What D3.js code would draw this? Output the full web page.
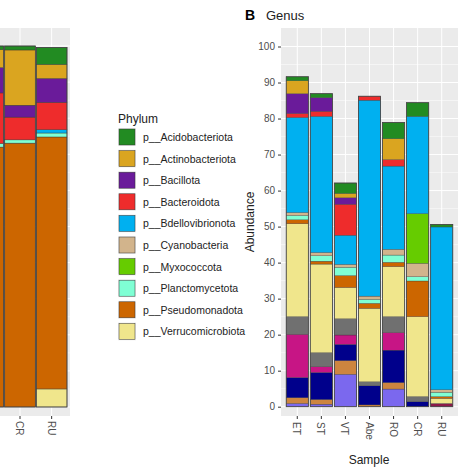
<!DOCTYPE html><html><head><meta charset="utf-8">
<script src="https://cdn.jsdelivr.net/npm/d3@7"></script>
<style>body{margin:0;background:#fff}text{font-family:"Liberation Sans",Arial,sans-serif}</style></head><body>
<svg id="c" width="474" height="474"></svg>
<script>
// Panel A (phylum), partially visible
const phyla=["p__Acidobacteriota","p__Actinobacteriota","p__Bacillota","p__Bacteroidota","p__Bdellovibrionota","p__Cyanobacteria","p__Myxococcota","p__Planctomycetota","p__Pseudomonadota","p__Verrucomicrobiota"];
const phylaColors=["#228B22","#DAA520","#6A1B9A","#EE2C2C","#00B0F0","#D2B48C","#66CC00","#7FFFD4","#CC6600","#F0E68C"];
const samplesA=["VT","CR","RU"];
// values stacked bottom->top in order: Verruco, Pseudo, Plancto, Myxo, Cyano, Bdello, Bacteroid, Bacillota, Actino, Acido
const phylumValues={
 VT:[0,72,1,0,0,0,14,7,5,1],
 CR:[0,73.1,0.9,0,0,0,6.3,3.3,15.3,1.1],
 RU:[5,69.8,1.1,0,0,0.9,7.6,6.6,3.9,4.7]
};
// Panel B (genus)
const samples=["ET","ST","VT","Abe","RO","CR","RU"];
const genusColors=["#8B1A4A","#7B68EE","#CD853F","#00008B","#C71585","#707070","#F0E68C","#CC6600","#7FFFD4","#D2B48C","#66CC00","#00B0F0","#EE2C2C","#6A1B9A","#DAA520","#228B22"];
const genusValues={
 ET:[0,0.9,1.6,5.6,12,4.9,25.8,1.1,1.2,0.8,0,26.4,1.1,5.5,3.6,1.1],
 ST:[0,0.7,1.3,7.5,1.6,3.9,24.6,0.8,1.5,0.9,0,37.8,1.4,3.8,0,1.1],
 VT:[0,9,3.8,4.5,2.6,4.5,8.7,3.3,2.3,0.8,0,8.1,8.6,1.8,1.2,2.9],
 Abe:[0,0,0.5,5.3,0,1.1,20.4,1.4,1.1,0.9,0,54.4,1.1,0,0,0],
 RO:[0,4.9,1.8,9,4.9,4.4,13.9,1.2,2,1.6,0,23.1,1.8,0,5.8,4.5],
 CR:[0,0,0,1.4,0,1.4,22.2,9.9,1.2,3.7,13.8,27,0,0,0,3.8],
 RU:[0.9,0,0,0,0,0,1.4,0.5,1.2,0.7,0,45.2,0,0,0,0.7]
};
const yTicks=[0,10,20,30,40,50,60,70,80,90,100];

const svg=d3.select("#c");
const bgc="#EBEBEB";
// ---- Panel A
const yA=d3.scaleLinear().domain([0,100]).range([407,46]);
const xA=d3.scaleBand().domain(samplesA).range([-27,67]).paddingInner(0.03);
svg.append("rect").attr("x",0).attr("y",28).attr("width",70).attr("height",388).attr("fill",bgc);
const gA=svg.append("g");
[5,15,25,35,45,55,65,75,85,95].forEach(v=>gA.append("line").attr("x1",0).attr("x2",70).attr("y1",yA(v)).attr("y2",yA(v)).attr("stroke","#fff").attr("stroke-width",0.5));
yTicks.forEach(v=>gA.append("line").attr("x1",0).attr("x2",70).attr("y1",yA(v)).attr("y2",yA(v)).attr("stroke","#fff").attr("stroke-width",1));
samplesA.slice(1).forEach(s=>gA.append("line").attr("x1",xA(s)+xA.bandwidth()/2).attr("x2",xA(s)+xA.bandwidth()/2).attr("y1",28).attr("y2",416).attr("stroke","#fff"));
const stackOrderA=[9,8,7,6,5,4,3,2,1,0];
samplesA.forEach(s=>{let c=0;phylumValues[s].forEach((v,i)=>{if(v<=0)return;const pi=stackOrderA[i];
 gA.append("rect").attr("x",xA(s)).attr("width",xA.bandwidth()).attr("y",yA(c+v)).attr("height",yA(c)-yA(c+v)).attr("fill",phylaColors[pi]).attr("stroke","#333").attr("stroke-width",0.4);c+=v;});
 gA.append("rect").attr("x",xA(s)).attr("width",xA.bandwidth()).attr("y",yA(c)).attr("height",yA(0)-yA(c)).attr("fill","none").attr("stroke","#444").attr("stroke-width",0.8);
 if(s!=="VT"){const cx=xA(s)+xA.bandwidth()/2;gA.append("line").attr("x1",cx).attr("x2",cx).attr("y1",416).attr("y2",419).attr("stroke","#333");
 gA.append("text").attr("transform",`translate(${cx-4},${421}) rotate(90)`).attr("font-size",10).attr("fill","#4d4d4d").text(s);}
});
// ---- Legend
const lg=svg.append("g");
lg.append("text").attr("x",118).attr("y",123).attr("font-size",12).attr("fill","#222").text("Phylum");
phyla.forEach((p,i)=>{const y=128+i*21.6;
 lg.append("rect").attr("x",118).attr("y",y).attr("width",18).attr("height",18).attr("fill","#f2f2f2");
 lg.append("rect").attr("x",119).attr("y",y+1).attr("width",16).attr("height",16).attr("fill",phylaColors[i]).attr("stroke","#333").attr("stroke-width",0.5);
 lg.append("text").attr("x",143).attr("y",y+13).attr("font-size",10.5).attr("fill","#222").text(p);});
// ---- Panel B
const L=281,R=458,T=28,B=416;
const y=d3.scaleLinear().domain([0,100]).range([406.7,46.5]);
const x=d3.scaleBand().domain(samples).range([L+4,R-4]).paddingInner(0.08).paddingOuter(0.05);
svg.append("rect").attr("x",L).attr("y",T).attr("width",R-L).attr("height",B-T).attr("fill",bgc);
const g=svg.append("g");
[5,15,25,35,45,55,65,75,85,95].forEach(v=>g.append("line").attr("x1",L).attr("x2",R).attr("y1",y(v)).attr("y2",y(v)).attr("stroke","#fff").attr("stroke-width",0.5));
yTicks.forEach(v=>g.append("line").attr("x1",L).attr("x2",R).attr("y1",y(v)).attr("y2",y(v)).attr("stroke","#fff").attr("stroke-width",1));
samples.forEach(s=>g.append("line").attr("x1",x(s)+x.bandwidth()/2).attr("x2",x(s)+x.bandwidth()/2).attr("y1",T).attr("y2",B).attr("stroke","#fff"));
samples.forEach(s=>{let c=0;genusValues[s].forEach((v,i)=>{if(v<=0)return;
 g.append("rect").attr("x",x(s)).attr("width",x.bandwidth()).attr("y",y(c+v)).attr("height",y(c)-y(c+v)).attr("fill",genusColors[i]).attr("stroke","#333").attr("stroke-width",0.3);c+=v;});
 g.append("rect").attr("x",x(s)).attr("width",x.bandwidth()).attr("y",y(c)).attr("height",y(0)-y(c)).attr("fill","none").attr("stroke","#444").attr("stroke-width",0.8);
});
const ya=svg.append("g").attr("transform",`translate(${L},0)`).call(d3.axisLeft(y).tickValues(yTicks).tickSize(3).tickPadding(3));
ya.select(".domain").remove();ya.selectAll("line").attr("stroke","#333");ya.selectAll("text").attr("font-size",10).attr("fill","#4d4d4d");
const xa=svg.append("g").attr("transform",`translate(0,${B})`).call(d3.axisBottom(x).tickSize(3));
xa.select(".domain").remove();xa.selectAll("line").attr("stroke","#333");
xa.selectAll("text").attr("font-size",10).attr("fill","#4d4d4d").attr("text-anchor","start").attr("dy",0).attr("y",0).attr("transform","translate(-4,6) rotate(90)");
svg.append("text").attr("x",369).attr("y",464).attr("text-anchor","middle").attr("font-size",12).attr("fill","#222").text("Sample");
svg.append("text").attr("transform","translate(254,222) rotate(-90)").attr("text-anchor","middle").attr("font-size",12).attr("fill","#222").text("Abundance");
svg.append("text").attr("x",245).attr("y",20).attr("font-size",14).attr("font-weight","bold").attr("fill","#000").text("B");
svg.append("text").attr("x",266).attr("y",20).attr("font-size",13).attr("fill","#222").text("Genus");
</script></body></html>
